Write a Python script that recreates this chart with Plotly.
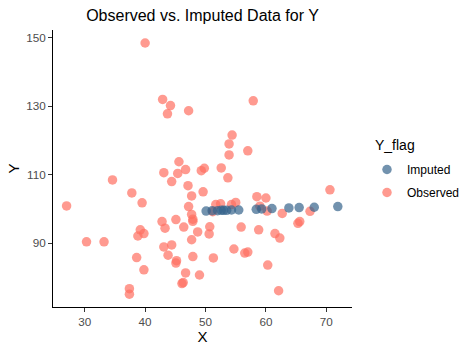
import plotly.graph_objects as go

# Observed points (X, Y)
obs_x = [40.0, 42.9, 44.2, 43.7, 47.2, 45.6, 43.1, 45.4, 46.7, 49.3, 49.8, 34.6, 44.4, 47.1,
         37.8, 47.7, 39.5, 27.0, 47.2, 47.7, 42.8, 45.1, 47.9, 47.9, 43.3, 46.4, 48.7, 39.2,
         38.8, 39.8, 30.3, 33.2, 47.7, 43.1, 44.4, 43.8, 38.6, 47.9, 45.2, 45.1, 49.0, 39.8,
         46.7, 46.1, 46.3, 37.4, 37.4, 57.9, 54.4, 53.9, 53.9, 57.0, 52.6, 53.7, 49.6, 70.6,
         58.5, 60.0, 51.7, 52.5, 54.3, 55.0, 59.0, 62.7, 60.2, 67.3, 51.2, 65.6, 65.3, 50.7,
         55.9, 58.8, 50.6, 61.5, 62.3, 54.7, 56.5, 57.0, 51.3, 60.3, 62.1]
obs_y = [148.5, 132.0, 130.2, 127.8, 128.7, 113.8, 110.6, 110.4, 111.5, 111.2, 111.9, 108.5, 108.0, 106.8,
         104.7, 103.8, 101.8, 100.9, 100.7, 98.4, 96.3, 96.9, 96.4, 97.0, 94.4, 94.7, 93.3, 93.9,
         92.1, 92.8, 90.4, 90.4, 91.0, 88.9, 89.5, 86.5, 85.8, 86.1, 84.9, 84.2, 80.7, 82.2,
         81.3, 78.2, 78.5, 76.7, 75.1, 131.6, 121.6, 119.0, 115.8, 117.0, 112.0, 109.1, 105.0, 105.6,
         103.6, 103.2, 101.3, 101.5, 101.3, 101.9, 100.8, 98.7, 99.4, 99.3, 99.2, 96.3, 95.8, 94.8,
         94.7, 93.9, 92.7, 92.8, 91.5, 88.3, 87.1, 87.4, 85.7, 83.6, 76.1]

# Imputed points (X, Y)
imp_x = [50.1, 51.1, 52.0, 52.6, 53.0, 53.5, 54.3, 55.5, 58.4, 59.3, 61.0, 63.8, 65.5, 68.0, 71.9]
imp_y = [99.4, 99.5, 99.5, 99.6, 99.6, 99.6, 99.7, 99.7, 99.9, 100.0, 100.1, 100.3, 100.4, 100.5, 100.7]

x_ticks = [30, 40, 50, 60, 70]
y_ticks = [90, 110, 130, 150]

FONT = "Liberation Sans, Arial, sans-serif"
W, H = 472, 352
L, R, T, B = 53, 120, 30, 45
PW, PH = W - L - R, H - T - B

fig = go.Figure()
fig.add_trace(go.Scatter(x=obs_x, y=obs_y, mode="markers", name="Observed", legendrank=2,
                         legendgroup="obs",
                         marker=dict(color="#FF6F61", size=9.5, opacity=0.7, line=dict(width=0))))
fig.add_trace(go.Scatter(x=imp_x, y=imp_y, mode="markers", name="Imputed", legendrank=1,
                         legendgroup="imp",
                         marker=dict(color="#36648B", size=9.5, opacity=0.7, line=dict(width=0))))

axis_common = dict(showgrid=False, zeroline=False, showline=True, linecolor="black", linewidth=1,
                   ticks="outside", ticklen=4, tickcolor="#333333", tickwidth=1, automargin=False,
                   tickfont=dict(family=FONT, size=11.7, color="#4D4D4D"), mirror=False)

fig.update_layout(
    width=W, height=H,
    margin=dict(l=L, r=R, t=T, b=B, autoexpand=False),
    paper_bgcolor="white", plot_bgcolor="white",
    title=dict(text="Observed vs. Imputed Data for Y", x=(L + W - R) / 2 / W, xanchor="center",
               y=1 - 15 / H, yanchor="middle", font=dict(family=FONT, size=16, color="black")),
    xaxis=dict(range=[24.75, 74.25], tickvals=x_ticks,
               title=dict(text="X", font=dict(family=FONT, size=15, color="black"), standoff=0),
               **axis_common),
    yaxis=dict(range=[71.35, 152.3], tickvals=y_ticks,
               title=dict(text="Y", font=dict(family=FONT, size=15, color="black"), standoff=2),
               **axis_common),
    legend=dict(x=(367 - L) / PW, xanchor="left", y=(H - B - 155) / PH, yanchor="top",
                font=dict(family=FONT, size=12, color="black"),
                bgcolor="rgba(0,0,0,0)", tracegroupgap=4),
    annotations=[dict(text="Y_flag", xref="paper", yref="paper",
                      x=(373 - L) / PW, xanchor="left", y=(H - B - 145) / PH, yanchor="middle",
                      showarrow=False, font=dict(family=FONT, size=14, color="black"))],
    showlegend=True,
)

fig.write_html("out.html")
